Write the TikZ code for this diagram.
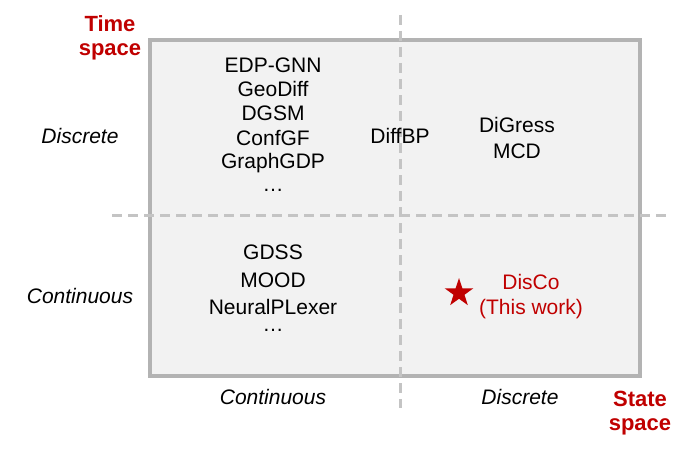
\documentclass[tikz,border=0pt]{standalone}
\usepackage{fontspec}
\setmainfont{Liberation Sans}
\usetikzlibrary{shapes.geometric}
\definecolor{myred}{HTML}{C00000}
\definecolor{boxgray}{HTML}{B3B3B3}
\definecolor{dashgray}{HTML}{C4C4C4}
\begin{document}
\begin{tikzpicture}[x=1pt,y=-1pt,
  lbl/.style={font=\fontsize{21}{23}\selectfont, inner sep=0pt, anchor=center},
  axl/.style={lbl, font=\fontsize{21}{23}\selectfont\itshape},
  redlbl/.style={lbl, text=myred, font=\fontsize{22}{24}\selectfont\bfseries},
  dashln/.style={dashgray, line width=3pt, dash pattern=on 10pt off 6pt}]
\useasboundingbox (0,0) rectangle (693,460);
\draw[boxgray, line width=4pt, fill=black!5] (150,40) rectangle (640,376);
\coordinate (vt) at (400,15); \coordinate (vb) at (400,408);
\coordinate (hl) at (112,215); \coordinate (hr) at (670,215);
\draw[dashln] (vt) -- (vb);
\draw[dashln] (hl) -- (hr);
\node[lbl] (a1) at (273,65) {EDP-GNN};
\node[lbl] (a2) at (273,89) {GeoDiff};
\node[lbl] (a3) at (273,113) {DGSM};
\node[lbl] (a4) at (273,138) {ConfGF};
\node[lbl] (a5) at (273,163) {GraphGDP};
\node[lbl] (a6) at (273,190) {\ldots};
\node[lbl] (b1) at (400,136) {DiffBP};
\node[lbl] (c1) at (517,125) {DiGress};
\node[lbl] (c2) at (517,151) {MCD};
\node[lbl] (d1) at (273,252) {GDSS};
\node[lbl] (d2) at (273,280) {MOOD};
\node[lbl] (d3) at (273,307) {NeuralPLexer};
\node[lbl] (d4) at (273,330) {\ldots};
\node[star, star points=5, star point ratio=2.6, fill=myred, minimum size=30pt, inner sep=0pt] (st) at (459,293) {};
\node[lbl, text=myred] (e1) at (531,282) {DisCo};
\node[lbl, text=myred] (e2) at (531,309) {(This work)};
\node[redlbl] (t1) at (110,24) {Time};
\node[redlbl] (t2) at (110,52) {space};
\node[axl] (y1) at (80,136) {Discrete};
\node[axl] (y2) at (80,296) {Continuous};
\node[axl] (x1) at (273,397) {Continuous};
\node[axl] (x2) at (520,397) {Discrete};
\node[redlbl] (s1) at (640,399) {State};
\node[redlbl] (s2) at (640,427) {space};
\end{tikzpicture}
\end{document}
